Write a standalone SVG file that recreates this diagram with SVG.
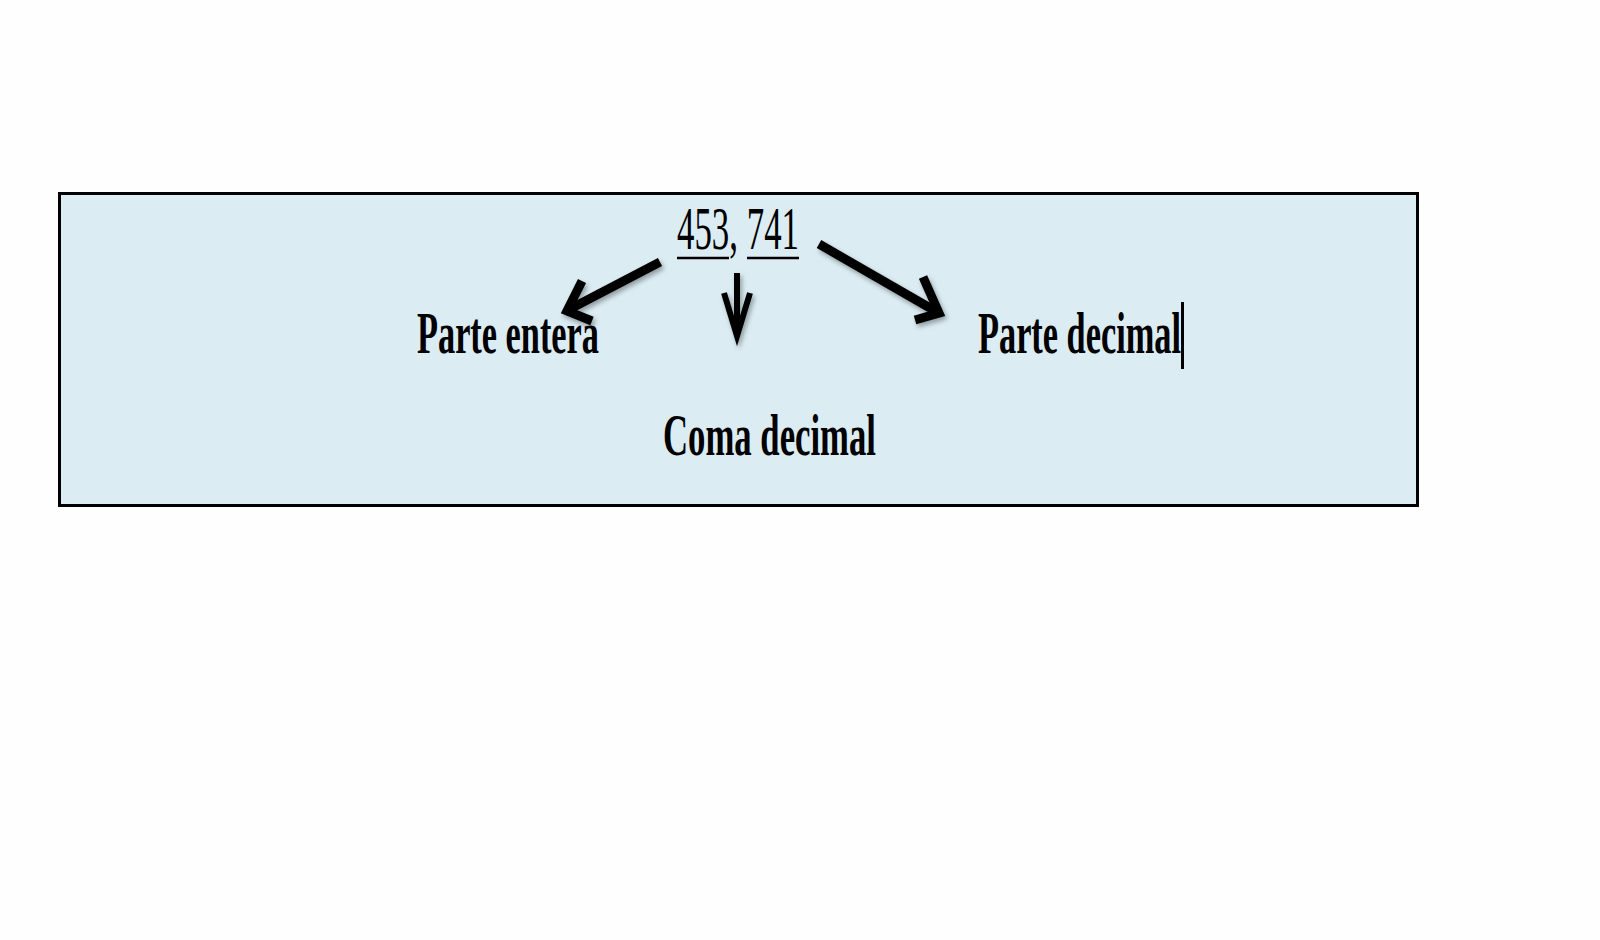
<svg xmlns="http://www.w3.org/2000/svg" width="1600" height="940" viewBox="0 0 1600 940">
  <defs>
    <style>
      .lbl { font-family: "Liberation Serif", "Times New Roman", serif; font-weight: bold; font-size: 60px; fill: #000; }
      .num { font-family: "Liberation Serif", "Times New Roman", serif; font-weight: normal; font-size: 62px; fill: #000; }
      .arr { fill: none; stroke: #000; stroke-linecap: butt; stroke-linejoin: miter; }
      .ul { stroke: #000; stroke-width: 2.5; }
    </style>
    <filter id="sh" x="-20%" y="-20%" width="150%" height="150%">
      <feDropShadow dx="2" dy="3" stdDeviation="2.5" flood-color="#000" flood-opacity="0.35"/>
    </filter>
  </defs>
  <rect x="0" y="0" width="1600" height="940" fill="#fefefe"/>
  <g id="panel">
    <rect x="59.5" y="193.5" width="1358" height="312" fill="#dbedf3" stroke="#000" stroke-width="3"/>
  </g>
  <g id="number">
    <text class="num" x="677" y="249" textLength="122" lengthAdjust="spacingAndGlyphs">453, 741</text>
    <line class="ul" x1="677" y1="258" x2="729" y2="258"/>
    <line class="ul" x1="747" y1="258" x2="799" y2="258"/>
  </g>
  <g id="parte-entera">
    <text class="lbl" x="417" y="353" textLength="182" lengthAdjust="spacingAndGlyphs">Parte entera</text>
  </g>
  <g id="parte-decimal">
    <text class="lbl" x="978" y="353" textLength="203" lengthAdjust="spacingAndGlyphs">Parte decimal</text>
    <rect x="1181" y="302" width="3" height="67" fill="#000"/>
  </g>
  <g id="coma-decimal">
    <text class="lbl" x="663" y="455" textLength="213" lengthAdjust="spacingAndGlyphs">Coma decimal</text>
  </g>
  <g id="connectors" filter="url(#sh)">
    <path class="arr" stroke-width="9" d="M660,262 L568,310"/>
    <path class="arr" stroke-width="9" d="M582,281 L567,311 L592,321"/>
    <path class="arr" stroke-width="6" d="M737,273 L737,334"/>
    <path class="arr" stroke-width="6" d="M724,293 L737,336 L750,293"/>
    <path class="arr" stroke-width="9" d="M819,244 L937,312"/>
    <path class="arr" stroke-width="9" d="M923,277 L939,313 L915,320"/>
  </g>
</svg>
